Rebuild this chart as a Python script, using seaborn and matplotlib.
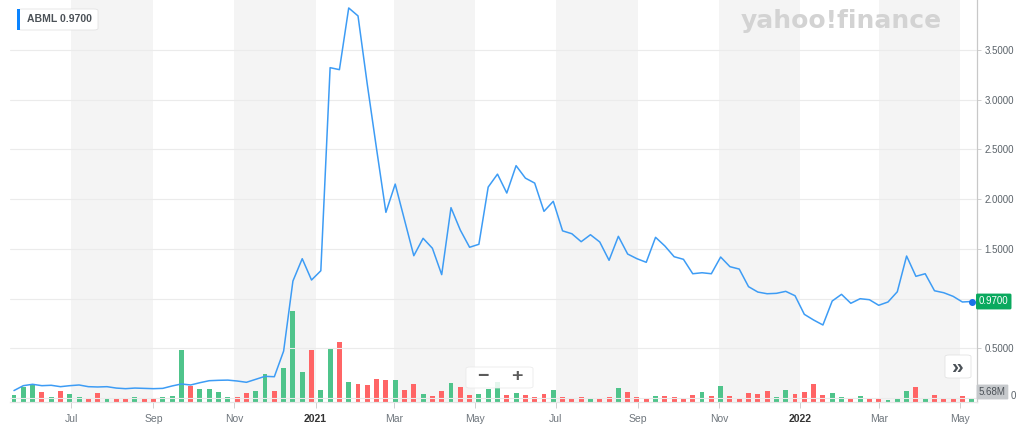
import matplotlib.pyplot as plt
import matplotlib.patches as mpatches
import seaborn as sns
import pandas as pd
import numpy as np

# weekly closes and volume (millions)
week_start = "2020-05-19"
close = [0.075, 0.124, 0.138, 0.124, 0.128, 0.114, 0.124, 0.131, 0.114, 0.111,
         0.114, 0.100, 0.094, 0.100, 0.097, 0.094, 0.097, 0.121, 0.141, 0.131,
         0.154, 0.174, 0.178, 0.180, 0.171, 0.158, 0.188, 0.218, 0.214, 0.472,
         1.176, 1.400, 1.186, 1.279, 3.320, 3.300, 3.920, 3.840, 3.150, 2.500,
         1.866, 2.150, 1.790, 1.430, 1.605, 1.505, 1.240, 1.913, 1.688, 1.515,
         1.545, 2.120, 2.250, 2.060, 2.335, 2.210, 2.160, 1.876, 1.977, 1.680,
         1.651, 1.571, 1.641, 1.568, 1.384, 1.625, 1.447, 1.400, 1.364, 1.615,
         1.528, 1.420, 1.394, 1.249, 1.259, 1.249, 1.417, 1.320, 1.296, 1.119,
         1.065, 1.048, 1.052, 1.072, 1.028, 0.841, 0.784, 0.734, 0.975, 1.042,
         0.952, 0.998, 0.988, 0.932, 0.965, 1.068, 1.427, 1.223, 1.249, 1.078,
         1.058, 1.022, 0.965, 0.970]
volume_m = [13.3, 29.1, 33.6, 18.4, 10.1, 21.5, 15.2, 8.9, 6.3, 17.1,
            7.0, 7.0, 7.0, 10.1, 7.6, 7.6, 10.1, 12.0, 99.4, 31.0,
            24.7, 24.7, 18.4, 8.9, 10.1, 17.1, 20.3, 53.8, 21.5, 64.0,
            172.3, 57.0, 99.4, 22.8, 102.6, 114.0, 38.0, 34.8, 31.7, 44.3,
            41.2, 41.2, 22.8, 33.6, 15.2, 12.0, 20.3, 36.1, 27.9, 13.3,
            15.2, 24.1, 38.0, 13.9, 17.1, 13.9, 10.1, 15.2, 22.2, 8.9,
            5.7, 10.1, 5.7, 5.7, 10.1, 26.6, 18.4, 10.1, 7.6, 12.0,
            12.0, 8.9, 5.7, 13.9, 19.0, 12.0, 30.4, 12.0, 5.7, 17.1,
            15.8, 20.3, 8.9, 22.8, 15.2, 19.0, 34.8, 13.9, 17.1, 8.9,
            5.7, 12.0, 5.7, 5.7, 3.8, 5.7, 21.5, 28.5, 7.6, 13.9,
            7.6, 5.7, 10.8, 5.68]

ticker = "ABML"
last_price = "0.9700"
last_volume = "5.68M"

price_ticks = [0, 0.5, 1.0, 1.5, 2.0, 2.5, 3.0, 3.5]
price_labels = ["", "0.5000", "", "1.5000", "2.0000", "2.5000", "3.0000", "3.5000"]
month_ticks = ["2020-07-01", "2020-09-01", "2020-11-01", "2021-01-01", "2021-03-01", "2021-05-01",
               "2021-07-01", "2021-09-01", "2021-11-01", "2022-01-01", "2022-03-01", "2022-05-01"]
month_labels = ["Jul", "Sep", "Nov", "2021", "Mar", "May", "Jul", "Sep", "Nov", "2022", "Mar", "May"]
shaded = [("2020-07-01", "2020-09-01"), ("2020-11-01", "2021-01-01"), ("2021-03-01", "2021-05-01"),
          ("2021-07-01", "2021-09-01"), ("2021-11-01", "2022-01-01"), ("2022-03-01", "2022-05-01")]

df = pd.DataFrame({"date": pd.date_range(week_start, periods=len(close), freq="7D"),
                   "close": close, "volume": volume_m})
df["up"] = df["close"].diff().fillna(1) >= 0

sns.set_style("white")
plt.rcParams["font.family"] = ["Liberation Sans", "DejaVu Sans"]

W, H = 1024, 429
fig = plt.figure(figsize=(W / 100, H / 100), dpi=100)
ax_v = fig.add_axes([10 / W, 27 / H, 967 / W, 402 / H])
ax_p = ax_v.twinx()

xmin = pd.Timestamp("2020-05-16")
xmax = df["date"].iloc[-1] + pd.Timedelta(days=4)

# shaded month bands
for a, b in shaded:
    ax_v.axvspan(pd.Timestamp(a), pd.Timestamp(b), color="#f4f4f4", lw=0, zorder=0)

# volume bars
bar_colors = np.where(df["up"], "#4fc48b", "#ff6566")
ax_v.bar(df["date"], df["volume"], width=3.7, color=bar_colors, lw=0, zorder=2)
ax_v.set_ylim(0, 764)
ax_v.set_yticks([])
ax_v.set_xlim(xmin, xmax)

# price line
sns.lineplot(data=df, x="date", y="close", ax=ax_p, color="#3d9cf5", linewidth=1.1, zorder=3)
ax_p.plot(df["date"].iloc[-1], df["close"].iloc[-1], "o", color="#1a73e8", ms=4, zorder=4)
ax_p.set_ylim(-0.04, 4.0)
ax_p.set_xlim(xmin, xmax)
ax_p.set_yticks(price_ticks)
ax_p.set_yticklabels(price_labels)
ax_p.set_ylabel("")
ax_p.set_xlabel("")
ax_p.grid(axis="y", color="#ebebeb", linewidth=0.8)
ax_p.set_axisbelow(True)
ax_p.tick_params(axis="y", right=True, length=3, width=0.6, color="#c8c8c8",
                 labelsize=7, labelcolor="#5b636a", pad=2.5)

ax_v.set_xticks([pd.Timestamp(d) for d in month_ticks])
ax_v.set_xticklabels(month_labels)
ax_v.tick_params(axis="x", bottom=True, length=4, width=0.6, color="#c8c8c8",
                 labelsize=7.5, labelcolor="#6f767d", pad=5)
for lab in ax_v.get_xticklabels():
    if lab.get_text() in ("2021", "2022"):
        lab.set_color("#333333")
        lab.set_fontweight("bold")

for a in (ax_v, ax_p):
    for s in ("top", "left"):
        a.spines[s].set_visible(False)
    a.spines["bottom"].set_color("#e6e6e6")
    a.spines["right"].set_color("#c8c8c8")
    a.spines["right"].set_linewidth(0.8)

# last price / volume markers on the right axis
ax_p.text(1.002, 0.97, last_price, transform=ax_p.get_yaxis_transform(), ha="left", va="center",
          fontsize=7, color="white",
          bbox=dict(boxstyle="round,pad=0.3,rounding_size=0.15", fc="#0aa95e", ec="none"), zorder=6)
fig.text(979 / W, 1 - 392 / H, last_volume, ha="left", va="center", fontsize=7, color="#4b5157",
         bbox=dict(boxstyle="round,pad=0.25,rounding_size=0.1", fc="#c6c9cc", ec="none"))
fig.text(1011 / W, 1 - 396 / H, "0", ha="left", va="center", fontsize=7, color="#5b636a")

# ticker badge top-left
fig.patches.append(mpatches.FancyBboxPatch((18 / W, 1 - 30 / H), 80 / W, 21 / H,
                                           boxstyle="round,pad=0,rounding_size=0.004",
                                           transform=fig.transFigure, fc="white", ec="#e3e3e3", lw=0.6))
fig.patches.append(mpatches.Rectangle((17 / W, 1 - 30 / H), 3 / W, 21 / H,
                                      transform=fig.transFigure, fc="#0a84ff", ec="none"))
fig.text(27 / W, 1 - 19.5 / H, f"{ticker} {last_price}", ha="left", va="center",
         fontsize=7.5, fontweight="bold", color="#4b5157")

# yahoo watermark
fig.text(741 / W, 1 - 21 / H, "yahoo!finance", ha="left", va="center", fontsize=18,
         fontweight="bold", color="#d3d3d3", family="DejaVu Sans")

# zoom control and scroll button
fig.patches.append(mpatches.FancyBboxPatch((466 / W, 1 - 388 / H), 67 / W, 21 / H,
                                           boxstyle="round,pad=0,rounding_size=0.004",
                                           transform=fig.transFigure, fc="white", ec="#e8e8e8",
                                           lw=0.6, alpha=0.85, zorder=5))
fig.text(483 / W, 1 - 377 / H, "\u2212", ha="center", va="center", fontsize=14,
         fontweight="bold", color="#5b5b5b", zorder=6)
fig.text(517 / W, 1 - 377 / H, "+", ha="center", va="center", fontsize=14,
         fontweight="bold", color="#5b5b5b", zorder=6)
fig.patches.append(mpatches.FancyBboxPatch((945 / W, 1 - 378 / H), 26 / W, 23 / H,
                                           boxstyle="round,pad=0,rounding_size=0.004",
                                           transform=fig.transFigure, fc="white", ec="#e3e3e3",
                                           lw=0.6, zorder=5))
fig.text(958 / W, 1 - 367 / H, "\u00bb", ha="center", va="center", fontsize=15,
         fontweight="bold", color="#4b5157", zorder=6)

fig.savefig("out.png", dpi=100)
